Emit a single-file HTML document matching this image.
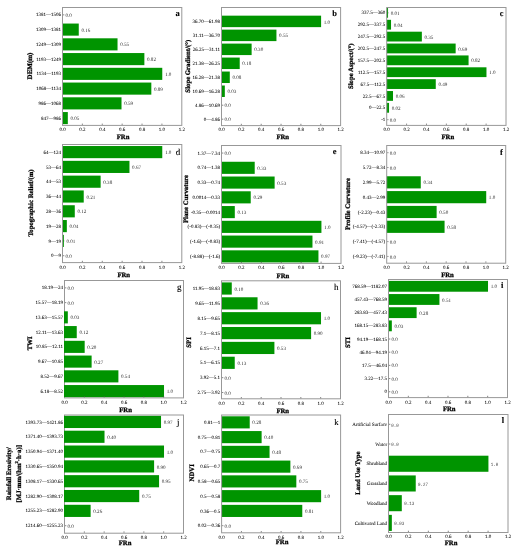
<!DOCTYPE html>
<html><head><meta charset="utf-8"><title>FRn charts</title>
<style>
html,body{margin:0;padding:0;background:#fff;}
svg{display:block;font-family:"Liberation Serif",serif;text-rendering:geometricPrecision;}
.t{font-size:5.0px;fill:#000;stroke:#000;stroke-width:0.04;}
.v{font-size:5.1px;fill:#2e2e2e;}
.vm{font-family:"Liberation Mono",monospace;font-size:5px;fill:#444;}
.yl{font-size:6.75px;font-weight:bold;fill:#000;stroke:#000;stroke-width:0.28;}
.xl{font-size:6.7px;font-weight:bold;fill:#000;stroke:#000;stroke-width:0.28;}
.fr{fill:none;stroke:#989898;stroke-width:1;}
.tk{stroke:#555;stroke-width:0.7;}
.bar{fill:#009400;}
</style></head>
<body>
<svg width="516" height="550" viewBox="0 0 516 550">
<rect width="516" height="550" fill="#fff"/>

<g id="p-a">
<line class="tk" x1="63" y1="14.85" x2="64.3" y2="14.85"/>
<line class="tk" x1="63" y1="29.6" x2="64.3" y2="29.6"/>
<line class="tk" x1="63" y1="44.35" x2="64.3" y2="44.35"/>
<line class="tk" x1="63" y1="59.1" x2="64.3" y2="59.1"/>
<line class="tk" x1="63" y1="73.85" x2="64.3" y2="73.85"/>
<line class="tk" x1="63" y1="88.6" x2="64.3" y2="88.6"/>
<line class="tk" x1="63" y1="103.35" x2="64.3" y2="103.35"/>
<line class="tk" x1="63" y1="118.1" x2="64.3" y2="118.1"/>
<rect class="bar" x="62.5" y="23.55" width="16.26" height="12.1"/>
<rect class="bar" x="62.5" y="38.3" width="55.03" height="12.1"/>
<rect class="bar" x="62.5" y="53.05" width="81.87" height="12.1"/>
<rect class="bar" x="62.5" y="67.8" width="99.77" height="12.1"/>
<rect class="bar" x="62.5" y="82.55" width="88.83" height="12.1"/>
<rect class="bar" x="62.5" y="97.3" width="59.01" height="12.1"/>
<rect class="bar" x="62.5" y="112.05" width="5.32" height="12.1"/>
<rect class="fr" x="62.5" y="7.5" width="119.3" height="117.9"/>
<text class="t" x="61.1" y="16.45" text-anchor="end">1381—1506</text>
<text class="v" x="65.5" y="16.95">0.0</text>
<text class="t" x="61.1" y="31.2" text-anchor="end">1309—1381</text>
<text class="v" x="81.41" y="31.7">0.16</text>
<text class="t" x="61.1" y="45.95" text-anchor="end">1249—1309</text>
<text class="v" x="120.18" y="46.45">0.55</text>
<text class="t" x="61.1" y="60.7" text-anchor="end">1193—1249</text>
<text class="v" x="147.02" y="61.2">0.82</text>
<text class="t" x="61.1" y="75.45" text-anchor="end">1134—1193</text>
<text class="v" x="164.92" y="75.95">1.0</text>
<text class="t" x="61.1" y="90.2" text-anchor="end">1068—1134</text>
<text class="v" x="153.98" y="90.7">0.89</text>
<text class="t" x="61.1" y="104.95" text-anchor="end">986—1068</text>
<text class="v" x="124.16" y="105.45">0.59</text>
<text class="t" x="61.1" y="119.7" text-anchor="end">847—986</text>
<text class="v" x="70.47" y="120.2">0.05</text>
<text class="t" x="62.5" y="131.25" text-anchor="middle">0.0</text>
<line class="tk" x1="82.38" y1="124.9" x2="82.38" y2="123.6"/>
<text class="t" x="82.38" y="131.25" text-anchor="middle">0.2</text>
<line class="tk" x1="102.27" y1="124.9" x2="102.27" y2="123.6"/>
<text class="t" x="102.27" y="131.25" text-anchor="middle">0.4</text>
<line class="tk" x1="122.15" y1="124.9" x2="122.15" y2="123.6"/>
<text class="t" x="122.15" y="131.25" text-anchor="middle">0.6</text>
<line class="tk" x1="142.03" y1="124.9" x2="142.03" y2="123.6"/>
<text class="t" x="142.03" y="131.25" text-anchor="middle">0.8</text>
<line class="tk" x1="161.92" y1="124.9" x2="161.92" y2="123.6"/>
<text class="t" x="161.92" y="131.25" text-anchor="middle">1.0</text>
<text class="t" x="181.8" y="131.25" text-anchor="middle">1.2</text>
<text class="xl" x="123.1" y="138.5" text-anchor="middle">FRn</text>
<text class="yl" transform="translate(32.4 66) rotate(-90)" text-anchor="middle" style="font-size:7.0px">DEM(m)</text>
<text x="177.7" y="16.1" text-anchor="middle" font-size="8.6" font-weight="bold" fill="#000" stroke="#000" stroke-width="0.12">a</text>
</g>
<g id="p-b">
<line class="tk" x1="222" y1="21.4" x2="223.3" y2="21.4"/>
<line class="tk" x1="222" y1="35.37" x2="223.3" y2="35.37"/>
<line class="tk" x1="222" y1="49.34" x2="223.3" y2="49.34"/>
<line class="tk" x1="222" y1="63.31" x2="223.3" y2="63.31"/>
<line class="tk" x1="222" y1="77.28" x2="223.3" y2="77.28"/>
<line class="tk" x1="222" y1="91.25" x2="223.3" y2="91.25"/>
<line class="tk" x1="222" y1="105.22" x2="223.3" y2="105.22"/>
<line class="tk" x1="222" y1="119.19" x2="223.3" y2="119.19"/>
<rect class="bar" x="221.5" y="15.66" width="99.6" height="11.48"/>
<rect class="bar" x="221.5" y="29.63" width="54.94" height="11.48"/>
<rect class="bar" x="221.5" y="43.6" width="30.12" height="11.48"/>
<rect class="bar" x="221.5" y="57.57" width="18.22" height="11.48"/>
<rect class="bar" x="221.5" y="71.54" width="8.29" height="11.48"/>
<rect class="bar" x="221.5" y="85.51" width="3.33" height="11.48"/>
<rect class="fr" x="221.5" y="7.5" width="119.1" height="118.1"/>
<text class="t" x="220.1" y="23" text-anchor="end">36.70—61.98</text>
<text class="v" x="323.75" y="23.5">1.0</text>
<text class="t" x="220.1" y="36.97" text-anchor="end">31.11—36.70</text>
<text class="v" x="279.09" y="37.47">0.55</text>
<text class="t" x="220.1" y="50.94" text-anchor="end">26.25—31.11</text>
<text class="v" x="254.28" y="51.44">0.30</text>
<text class="t" x="220.1" y="64.91" text-anchor="end">21.38—26.25</text>
<text class="v" x="242.37" y="65.41">0.18</text>
<text class="t" x="220.1" y="78.88" text-anchor="end">16.28—21.38</text>
<text class="v" x="232.44" y="79.38">0.08</text>
<text class="t" x="220.1" y="92.85" text-anchor="end">10.69—16.28</text>
<text class="v" x="227.48" y="93.35">0.03</text>
<text class="t" x="220.1" y="106.82" text-anchor="end">4.86—10.69</text>
<text class="v" x="224.5" y="107.32">0.0</text>
<text class="t" x="220.1" y="120.79" text-anchor="end">0—4.86</text>
<text class="v" x="224.5" y="121.29">0.0</text>
<text class="t" x="221.5" y="131.3" text-anchor="middle">0.0</text>
<line class="tk" x1="241.35" y1="125.1" x2="241.35" y2="123.8"/>
<text class="t" x="241.35" y="131.3" text-anchor="middle">0.2</text>
<line class="tk" x1="261.2" y1="125.1" x2="261.2" y2="123.8"/>
<text class="t" x="261.2" y="131.3" text-anchor="middle">0.4</text>
<line class="tk" x1="281.05" y1="125.1" x2="281.05" y2="123.8"/>
<text class="t" x="281.05" y="131.3" text-anchor="middle">0.6</text>
<line class="tk" x1="300.9" y1="125.1" x2="300.9" y2="123.8"/>
<text class="t" x="300.9" y="131.3" text-anchor="middle">0.8</text>
<line class="tk" x1="320.75" y1="125.1" x2="320.75" y2="123.8"/>
<text class="t" x="320.75" y="131.3" text-anchor="middle">1.0</text>
<text class="t" x="340.6" y="131.3" text-anchor="middle">1.2</text>
<text class="xl" x="282.7" y="138.8" text-anchor="middle">FRn</text>
<text class="yl" transform="translate(190.15 66.25) rotate(-90)" text-anchor="middle">Slope Gradient/(°)</text>
<text x="334.7" y="16.1" text-anchor="middle" font-size="8.4" font-weight="bold" fill="#000" stroke="#000" stroke-width="0.12">b</text>
</g>
<g id="p-c">
<line class="tk" x1="387.2" y1="12.85" x2="388.5" y2="12.85"/>
<line class="tk" x1="387.2" y1="24.72" x2="388.5" y2="24.72"/>
<line class="tk" x1="387.2" y1="36.59" x2="388.5" y2="36.59"/>
<line class="tk" x1="387.2" y1="48.46" x2="388.5" y2="48.46"/>
<line class="tk" x1="387.2" y1="60.33" x2="388.5" y2="60.33"/>
<line class="tk" x1="387.2" y1="72.2" x2="388.5" y2="72.2"/>
<line class="tk" x1="387.2" y1="84.07" x2="388.5" y2="84.07"/>
<line class="tk" x1="387.2" y1="95.94" x2="388.5" y2="95.94"/>
<line class="tk" x1="387.2" y1="107.81" x2="388.5" y2="107.81"/>
<line class="tk" x1="387.2" y1="119.68" x2="388.5" y2="119.68"/>
<rect class="bar" x="386.7" y="7.95" width="1.34" height="9.8"/>
<rect class="bar" x="386.7" y="19.82" width="4.33" height="9.8"/>
<rect class="bar" x="386.7" y="31.69" width="35.15" height="9.8"/>
<rect class="bar" x="386.7" y="43.56" width="68.95" height="9.8"/>
<rect class="bar" x="386.7" y="55.43" width="81.87" height="9.8"/>
<rect class="bar" x="386.7" y="67.3" width="99.77" height="9.8"/>
<rect class="bar" x="386.7" y="79.17" width="49.06" height="9.8"/>
<rect class="bar" x="386.7" y="91.04" width="6.31" height="9.8"/>
<rect class="bar" x="386.7" y="102.91" width="2.34" height="9.8"/>
<rect class="fr" x="386.7" y="7.5" width="119.3" height="117.9"/>
<text class="t" x="385.3" y="14.45" text-anchor="end">337.5—360</text>
<text class="v" x="390.69" y="14.95">0.01</text>
<text class="t" x="385.3" y="26.32" text-anchor="end">292.5—337.5</text>
<text class="v" x="393.68" y="26.82">0.04</text>
<text class="t" x="385.3" y="38.19" text-anchor="end">247.5—292.5</text>
<text class="v" x="424.5" y="38.69">0.35</text>
<text class="t" x="385.3" y="50.06" text-anchor="end">202.5—247.5</text>
<text class="v" x="458.3" y="50.56">0.69</text>
<text class="t" x="385.3" y="61.93" text-anchor="end">157.5—202.5</text>
<text class="v" x="471.22" y="62.43">0.82</text>
<text class="t" x="385.3" y="73.8" text-anchor="end">112.5—157.5</text>
<text class="v" x="489.12" y="74.3">1.0</text>
<text class="t" x="385.3" y="85.67" text-anchor="end">67.5—112.5</text>
<text class="v" x="438.41" y="86.17">0.49</text>
<text class="t" x="385.3" y="97.54" text-anchor="end">22.5—67.5</text>
<text class="v" x="395.66" y="98.04">0.06</text>
<text class="t" x="385.3" y="109.41" text-anchor="end">0—22.5</text>
<text class="v" x="391.69" y="109.91">0.02</text>
<text class="t" x="385.3" y="121.28" text-anchor="end">-1</text>
<text class="v" x="389.7" y="121.78">0.0</text>
<text class="t" x="386.7" y="131.1" text-anchor="middle">0.0</text>
<line class="tk" x1="406.58" y1="124.9" x2="406.58" y2="123.6"/>
<text class="t" x="406.58" y="131.1" text-anchor="middle">0.2</text>
<line class="tk" x1="426.47" y1="124.9" x2="426.47" y2="123.6"/>
<text class="t" x="426.47" y="131.1" text-anchor="middle">0.4</text>
<line class="tk" x1="446.35" y1="124.9" x2="446.35" y2="123.6"/>
<text class="t" x="446.35" y="131.1" text-anchor="middle">0.6</text>
<line class="tk" x1="466.23" y1="124.9" x2="466.23" y2="123.6"/>
<text class="t" x="466.23" y="131.1" text-anchor="middle">0.8</text>
<line class="tk" x1="486.12" y1="124.9" x2="486.12" y2="123.6"/>
<text class="t" x="486.12" y="131.1" text-anchor="middle">1.0</text>
<text class="t" x="506" y="131.1" text-anchor="middle">1.2</text>
<text class="xl" x="447.8" y="138.6" text-anchor="middle">FRn</text>
<text class="yl" transform="translate(352.65 66.25) rotate(-90)" text-anchor="middle">Slope Aspect/(°)</text>
<text x="501.5" y="16.1" text-anchor="middle" font-size="8.4" font-weight="bold" fill="#000" stroke="#000" stroke-width="0.12">c</text>
</g>
<g id="p-d">
<line class="tk" x1="63" y1="152.1" x2="64.3" y2="152.1"/>
<line class="tk" x1="63" y1="166.9" x2="64.3" y2="166.9"/>
<line class="tk" x1="63" y1="181.7" x2="64.3" y2="181.7"/>
<line class="tk" x1="63" y1="196.5" x2="64.3" y2="196.5"/>
<line class="tk" x1="63" y1="211.3" x2="64.3" y2="211.3"/>
<line class="tk" x1="63" y1="226.1" x2="64.3" y2="226.1"/>
<line class="tk" x1="63" y1="240.9" x2="64.3" y2="240.9"/>
<line class="tk" x1="63" y1="255.7" x2="64.3" y2="255.7"/>
<rect class="bar" x="62.5" y="146.03" width="99.77" height="12.14"/>
<rect class="bar" x="62.5" y="160.83" width="66.96" height="12.14"/>
<rect class="bar" x="62.5" y="175.63" width="38.13" height="12.14"/>
<rect class="bar" x="62.5" y="190.43" width="21.23" height="12.14"/>
<rect class="bar" x="62.5" y="205.23" width="12.28" height="12.14"/>
<rect class="bar" x="62.5" y="220.03" width="4.33" height="12.14"/>
<rect class="bar" x="62.5" y="234.83" width="1.34" height="12.14"/>
<rect class="fr" x="62.5" y="144.5" width="119.3" height="118.1"/>
<text class="t" x="61.1" y="153.7" text-anchor="end">64—124</text>
<text class="v" x="164.92" y="154.2">1.0</text>
<text class="t" x="61.1" y="168.5" text-anchor="end">53—64</text>
<text class="v" x="132.11" y="169">0.67</text>
<text class="t" x="61.1" y="183.3" text-anchor="end">44—53</text>
<text class="v" x="103.28" y="183.8">0.38</text>
<text class="t" x="61.1" y="198.1" text-anchor="end">36—44</text>
<text class="v" x="86.38" y="198.6">0.21</text>
<text class="t" x="61.1" y="212.9" text-anchor="end">28—36</text>
<text class="v" x="77.43" y="213.4">0.12</text>
<text class="t" x="61.1" y="227.7" text-anchor="end">19—28</text>
<text class="v" x="69.48" y="228.2">0.04</text>
<text class="t" x="61.1" y="242.5" text-anchor="end">9—19</text>
<text class="v" x="66.49" y="243">0.01</text>
<text class="t" x="61.1" y="257.3" text-anchor="end">0—9</text>
<text class="v" x="65.5" y="257.8">0.0</text>
<text class="t" x="62.5" y="268.7" text-anchor="middle">0.0</text>
<line class="tk" x1="82.38" y1="262.1" x2="82.38" y2="260.8"/>
<text class="t" x="82.38" y="268.7" text-anchor="middle">0.2</text>
<line class="tk" x1="102.27" y1="262.1" x2="102.27" y2="260.8"/>
<text class="t" x="102.27" y="268.7" text-anchor="middle">0.4</text>
<line class="tk" x1="122.15" y1="262.1" x2="122.15" y2="260.8"/>
<text class="t" x="122.15" y="268.7" text-anchor="middle">0.6</text>
<line class="tk" x1="142.03" y1="262.1" x2="142.03" y2="260.8"/>
<text class="t" x="142.03" y="268.7" text-anchor="middle">0.8</text>
<line class="tk" x1="161.92" y1="262.1" x2="161.92" y2="260.8"/>
<text class="t" x="161.92" y="268.7" text-anchor="middle">1.0</text>
<text class="t" x="181.8" y="268.7" text-anchor="middle">1.2</text>
<text class="xl" x="123.75" y="277.1" text-anchor="middle">FRn</text>
<text class="yl" transform="translate(32.5 203) rotate(-90)" text-anchor="middle">Topographic Relief/(m)</text>
<text x="178.1" y="154.7" text-anchor="middle" font-size="9" font-weight="normal" fill="#000" stroke="#000" stroke-width="0.12">d</text>
</g>
<g id="p-e">
<line class="tk" x1="222" y1="153.05" x2="223.3" y2="153.05"/>
<line class="tk" x1="222" y1="167.81" x2="223.3" y2="167.81"/>
<line class="tk" x1="222" y1="182.57" x2="223.3" y2="182.57"/>
<line class="tk" x1="222" y1="197.33" x2="223.3" y2="197.33"/>
<line class="tk" x1="222" y1="212.09" x2="223.3" y2="212.09"/>
<line class="tk" x1="222" y1="226.85" x2="223.3" y2="226.85"/>
<line class="tk" x1="222" y1="241.61" x2="223.3" y2="241.61"/>
<line class="tk" x1="222" y1="256.37" x2="223.3" y2="256.37"/>
<rect class="bar" x="221.5" y="161.76" width="33.21" height="12.11"/>
<rect class="bar" x="221.5" y="176.52" width="53.13" height="12.11"/>
<rect class="bar" x="221.5" y="191.28" width="29.23" height="12.11"/>
<rect class="bar" x="221.5" y="206.04" width="13.3" height="12.11"/>
<rect class="bar" x="221.5" y="220.8" width="99.93" height="12.11"/>
<rect class="bar" x="221.5" y="235.56" width="90.97" height="12.11"/>
<rect class="bar" x="221.5" y="250.32" width="96.95" height="12.11"/>
<rect class="fr" x="221.5" y="145.5" width="119.5" height="117.9"/>
<text class="t" x="220.1" y="154.65" text-anchor="end">1.37—7.34</text>
<text class="v" x="224.5" y="155.15">0.0</text>
<text class="t" x="220.1" y="169.41" text-anchor="end">0.74—1.38</text>
<text class="v" x="257.36" y="169.91">0.33</text>
<text class="t" x="220.1" y="184.17" text-anchor="end">0.33—0.74</text>
<text class="v" x="277.28" y="184.67">0.53</text>
<text class="t" x="220.1" y="198.93" text-anchor="end">0.0014—0.33</text>
<text class="v" x="253.38" y="199.43">0.29</text>
<text class="t" x="220.1" y="213.69" text-anchor="end">-0.35—0.0014</text>
<text class="v" x="237.45" y="214.19">0.13</text>
<text class="t" x="220.1" y="228.45" text-anchor="end">(-0.83)—(-0.35)</text>
<text class="v" x="324.08" y="228.95">1.0</text>
<text class="t" x="220.1" y="243.21" text-anchor="end">(-1.6)—(-0.83)</text>
<text class="v" x="315.12" y="243.71">0.91</text>
<text class="t" x="220.1" y="257.97" text-anchor="end">(-8.88)—(-1.6)</text>
<text class="v" x="321.1" y="258.47">0.97</text>
<text class="t" x="221.5" y="269.4" text-anchor="middle">0.0</text>
<line class="tk" x1="241.42" y1="262.9" x2="241.42" y2="261.6"/>
<text class="t" x="241.42" y="269.4" text-anchor="middle">0.2</text>
<line class="tk" x1="261.33" y1="262.9" x2="261.33" y2="261.6"/>
<text class="t" x="261.33" y="269.4" text-anchor="middle">0.4</text>
<line class="tk" x1="281.25" y1="262.9" x2="281.25" y2="261.6"/>
<text class="t" x="281.25" y="269.4" text-anchor="middle">0.6</text>
<line class="tk" x1="301.17" y1="262.9" x2="301.17" y2="261.6"/>
<text class="t" x="301.17" y="269.4" text-anchor="middle">0.8</text>
<line class="tk" x1="321.08" y1="262.9" x2="321.08" y2="261.6"/>
<text class="t" x="321.08" y="269.4" text-anchor="middle">1.0</text>
<text class="t" x="341" y="269.4" text-anchor="middle">1.2</text>
<text class="xl" x="282.9" y="278" text-anchor="middle">FRn</text>
<text class="yl" transform="translate(188.45 199) rotate(-90)" text-anchor="middle">Plane Curvature</text>
<text x="334.7" y="154.4" text-anchor="middle" font-size="8.5" font-weight="bold" fill="#000" stroke="#000" stroke-width="0.12">e</text>
</g>
<g id="p-f">
<line class="tk" x1="387.2" y1="152.7" x2="388.5" y2="152.7"/>
<line class="tk" x1="387.2" y1="167.52" x2="388.5" y2="167.52"/>
<line class="tk" x1="387.2" y1="182.34" x2="388.5" y2="182.34"/>
<line class="tk" x1="387.2" y1="197.16" x2="388.5" y2="197.16"/>
<line class="tk" x1="387.2" y1="211.98" x2="388.5" y2="211.98"/>
<line class="tk" x1="387.2" y1="226.8" x2="388.5" y2="226.8"/>
<line class="tk" x1="387.2" y1="241.62" x2="388.5" y2="241.62"/>
<line class="tk" x1="387.2" y1="256.44" x2="388.5" y2="256.44"/>
<rect class="bar" x="386.7" y="176.26" width="34.07" height="12.16"/>
<rect class="bar" x="386.7" y="191.08" width="99.52" height="12.16"/>
<rect class="bar" x="386.7" y="205.9" width="49.93" height="12.16"/>
<rect class="bar" x="386.7" y="220.72" width="57.87" height="12.16"/>
<rect class="fr" x="386.7" y="145.5" width="119" height="117.7"/>
<text class="t" x="385.3" y="154.3" text-anchor="end">8.34—10.97</text>
<text class="v" x="389.7" y="154.8">0.0</text>
<text class="t" x="385.3" y="169.12" text-anchor="end">5.72—8.34</text>
<text class="v" x="389.7" y="169.62">0.0</text>
<text class="t" x="385.3" y="183.94" text-anchor="end">2.99—5.72</text>
<text class="v" x="423.42" y="184.44">0.34</text>
<text class="t" x="385.3" y="198.76" text-anchor="end">0.43—2.99</text>
<text class="v" x="488.87" y="199.26">1.0</text>
<text class="t" x="385.3" y="213.58" text-anchor="end">(-2.23)—0.43</text>
<text class="v" x="439.28" y="214.08">0.50</text>
<text class="t" x="385.3" y="228.4" text-anchor="end">(-4.57)—(-2.33)</text>
<text class="v" x="447.22" y="228.9">0.58</text>
<text class="t" x="385.3" y="243.22" text-anchor="end">(-7.41)—(-4.57)</text>
<text class="v" x="389.7" y="243.72">0.0</text>
<text class="t" x="385.3" y="258.04" text-anchor="end">(-9.23)—(-7.41)</text>
<text class="v" x="389.7" y="258.54">0.0</text>
<text class="t" x="386.7" y="269.4" text-anchor="middle">0.0</text>
<line class="tk" x1="406.53" y1="262.7" x2="406.53" y2="261.4"/>
<text class="t" x="406.53" y="269.4" text-anchor="middle">0.2</text>
<line class="tk" x1="426.37" y1="262.7" x2="426.37" y2="261.4"/>
<text class="t" x="426.37" y="269.4" text-anchor="middle">0.4</text>
<line class="tk" x1="446.2" y1="262.7" x2="446.2" y2="261.4"/>
<text class="t" x="446.2" y="269.4" text-anchor="middle">0.6</text>
<line class="tk" x1="466.03" y1="262.7" x2="466.03" y2="261.4"/>
<text class="t" x="466.03" y="269.4" text-anchor="middle">0.8</text>
<line class="tk" x1="485.87" y1="262.7" x2="485.87" y2="261.4"/>
<text class="t" x="485.87" y="269.4" text-anchor="middle">1.0</text>
<text class="t" x="505.7" y="269.4" text-anchor="middle">1.2</text>
<text class="xl" x="447.45" y="277.1" text-anchor="middle">FRn</text>
<text class="yl" transform="translate(350.1 204) rotate(-90)" text-anchor="middle" style="font-size:6.85px">Profile Curvature</text>
<text x="501.4" y="154.7" text-anchor="middle" font-size="8.5" font-weight="bold" fill="#000" stroke="#000" stroke-width="0.12">f</text>
</g>
<g id="p-g">
<line class="tk" x1="65" y1="287.85" x2="66.3" y2="287.85"/>
<line class="tk" x1="65" y1="302.6" x2="66.3" y2="302.6"/>
<line class="tk" x1="65" y1="317.35" x2="66.3" y2="317.35"/>
<line class="tk" x1="65" y1="332.1" x2="66.3" y2="332.1"/>
<line class="tk" x1="65" y1="346.85" x2="66.3" y2="346.85"/>
<line class="tk" x1="65" y1="361.6" x2="66.3" y2="361.6"/>
<line class="tk" x1="65" y1="376.35" x2="66.3" y2="376.35"/>
<line class="tk" x1="65" y1="391.1" x2="66.3" y2="391.1"/>
<rect class="fr" x="64.5" y="280.5" width="119" height="117.4"/>
<rect class="bar" x="64" y="311.3" width="3.82" height="12.1"/>
<rect class="bar" x="64" y="326.05" width="12.75" height="12.1"/>
<rect class="bar" x="64" y="340.8" width="20.68" height="12.1"/>
<rect class="bar" x="64" y="355.55" width="27.62" height="12.1"/>
<rect class="bar" x="64" y="370.3" width="54.4" height="12.1"/>
<rect class="bar" x="64" y="385.05" width="100.02" height="12.1"/>
<text class="t" x="63.1" y="289.45" text-anchor="end">18.19—24</text>
<text class="v" x="67.5" y="289.95">0.0</text>
<text class="t" x="63.1" y="304.2" text-anchor="end">15.57—18.19</text>
<text class="v" x="67.5" y="304.7">0.0</text>
<text class="t" x="63.1" y="318.95" text-anchor="end">13.63—15.57</text>
<text class="v" x="70.47" y="319.45">0.03</text>
<text class="t" x="63.1" y="333.7" text-anchor="end">12.11—13.63</text>
<text class="v" x="79.4" y="334.2">0.12</text>
<text class="t" x="63.1" y="348.45" text-anchor="end">10.85—12.11</text>
<text class="v" x="87.33" y="348.95">0.20</text>
<text class="t" x="63.1" y="363.2" text-anchor="end">9.67—10.85</text>
<text class="v" x="94.28" y="363.7">0.27</text>
<text class="t" x="63.1" y="377.95" text-anchor="end">8.52—9.67</text>
<text class="v" x="121.05" y="378.45">0.54</text>
<text class="t" x="63.1" y="392.7" text-anchor="end">6.18—8.52</text>
<text class="v" x="166.67" y="393.2">1.0</text>
<text class="t" x="64.5" y="403.7" text-anchor="middle">0.0</text>
<line class="tk" x1="84.33" y1="397.4" x2="84.33" y2="396.1"/>
<text class="t" x="84.33" y="403.7" text-anchor="middle">0.2</text>
<line class="tk" x1="104.17" y1="397.4" x2="104.17" y2="396.1"/>
<text class="t" x="104.17" y="403.7" text-anchor="middle">0.4</text>
<line class="tk" x1="124" y1="397.4" x2="124" y2="396.1"/>
<text class="t" x="124" y="403.7" text-anchor="middle">0.6</text>
<line class="tk" x1="143.83" y1="397.4" x2="143.83" y2="396.1"/>
<text class="t" x="143.83" y="403.7" text-anchor="middle">0.8</text>
<line class="tk" x1="163.67" y1="397.4" x2="163.67" y2="396.1"/>
<text class="t" x="163.67" y="403.7" text-anchor="middle">1.0</text>
<text class="t" x="183.5" y="403.7" text-anchor="middle">1.2</text>
<text class="xl" x="125.55" y="412.1" text-anchor="middle">FRn</text>
<text class="yl" transform="translate(32.4 343.4) rotate(-90)" text-anchor="middle">TWI</text>
<text x="179.3" y="289.7" text-anchor="middle" font-size="9" font-weight="normal" fill="#000" stroke="#000" stroke-width="0.12">g</text>
</g>
<g id="p-h">
<line class="tk" x1="222" y1="288.5" x2="223.3" y2="288.5"/>
<line class="tk" x1="222" y1="303.36" x2="223.3" y2="303.36"/>
<line class="tk" x1="222" y1="318.22" x2="223.3" y2="318.22"/>
<line class="tk" x1="222" y1="333.08" x2="223.3" y2="333.08"/>
<line class="tk" x1="222" y1="347.94" x2="223.3" y2="347.94"/>
<line class="tk" x1="222" y1="362.8" x2="223.3" y2="362.8"/>
<line class="tk" x1="222" y1="377.66" x2="223.3" y2="377.66"/>
<line class="tk" x1="222" y1="392.52" x2="223.3" y2="392.52"/>
<rect class="bar" x="221.5" y="282.41" width="10.27" height="12.19"/>
<rect class="bar" x="221.5" y="297.27" width="36.05" height="12.19"/>
<rect class="bar" x="221.5" y="312.13" width="99.52" height="12.19"/>
<rect class="bar" x="221.5" y="326.99" width="89.6" height="12.19"/>
<rect class="bar" x="221.5" y="341.85" width="52.91" height="12.19"/>
<rect class="bar" x="221.5" y="356.71" width="13.24" height="12.19"/>
<rect class="fr" x="221.5" y="280.8" width="119" height="118"/>
<text class="t" x="220.1" y="290.1" text-anchor="end">11.95—18.83</text>
<text class="v" x="234.42" y="290.6">0.10</text>
<text class="t" x="220.1" y="304.96" text-anchor="end">9.65—11.95</text>
<text class="v" x="260.2" y="305.46">0.36</text>
<text class="t" x="220.1" y="319.82" text-anchor="end">8.15—9.65</text>
<text class="v" x="323.67" y="320.32">1.0</text>
<text class="t" x="220.1" y="334.68" text-anchor="end">7.1—8.15</text>
<text class="v" x="313.75" y="335.18">0.90</text>
<text class="t" x="220.1" y="349.54" text-anchor="end">6.15—7.1</text>
<text class="v" x="277.06" y="350.04">0.53</text>
<text class="t" x="220.1" y="364.4" text-anchor="end">5.1—6.15</text>
<text class="v" x="237.39" y="364.9">0.13</text>
<text class="t" x="220.1" y="379.26" text-anchor="end">3.92—5.1</text>
<text class="v" x="224.5" y="379.76">0.0</text>
<text class="t" x="220.1" y="394.12" text-anchor="end">2.75—3.92</text>
<text class="v" x="224.5" y="394.62">0.0</text>
<text class="t" x="221.5" y="405.1" text-anchor="middle">0.0</text>
<line class="tk" x1="241.33" y1="398.3" x2="241.33" y2="397"/>
<text class="t" x="241.33" y="405.1" text-anchor="middle">0.2</text>
<line class="tk" x1="261.17" y1="398.3" x2="261.17" y2="397"/>
<text class="t" x="261.17" y="405.1" text-anchor="middle">0.4</text>
<line class="tk" x1="281" y1="398.3" x2="281" y2="397"/>
<text class="t" x="281" y="405.1" text-anchor="middle">0.6</text>
<line class="tk" x1="300.83" y1="398.3" x2="300.83" y2="397"/>
<text class="t" x="300.83" y="405.1" text-anchor="middle">0.8</text>
<line class="tk" x1="320.67" y1="398.3" x2="320.67" y2="397"/>
<text class="t" x="320.67" y="405.1" text-anchor="middle">1.0</text>
<text class="t" x="340.5" y="405.1" text-anchor="middle">1.2</text>
<text class="xl" x="282.7" y="412.5" text-anchor="middle">FRn</text>
<text class="yl" transform="translate(190.65 342.5) rotate(-90)" text-anchor="middle">SPI</text>
<text x="336.2" y="289.9" text-anchor="middle" font-size="9" font-weight="normal" fill="#000" stroke="#000" stroke-width="0.12">h</text>
</g>
<g id="p-i">
<line class="tk" x1="389" y1="286.3" x2="390.3" y2="286.3"/>
<line class="tk" x1="389" y1="299.48" x2="390.3" y2="299.48"/>
<line class="tk" x1="389" y1="312.66" x2="390.3" y2="312.66"/>
<line class="tk" x1="389" y1="325.84" x2="390.3" y2="325.84"/>
<line class="tk" x1="389" y1="339.02" x2="390.3" y2="339.02"/>
<line class="tk" x1="389" y1="352.2" x2="390.3" y2="352.2"/>
<line class="tk" x1="389" y1="365.38" x2="390.3" y2="365.38"/>
<line class="tk" x1="389" y1="378.56" x2="390.3" y2="378.56"/>
<line class="tk" x1="389" y1="391.74" x2="390.3" y2="391.74"/>
<rect class="bar" x="388.5" y="280.88" width="99.52" height="10.84"/>
<rect class="bar" x="388.5" y="294.06" width="50.93" height="10.84"/>
<rect class="bar" x="388.5" y="307.24" width="28.12" height="10.84"/>
<rect class="bar" x="388.5" y="320.42" width="3.33" height="10.84"/>
<rect class="fr" x="388.5" y="279.5" width="119" height="118.1"/>
<text class="t" x="387.1" y="287.9" text-anchor="end">768.59—1182.07</text>
<text class="v" x="490.67" y="288.4">1.0</text>
<text class="t" x="387.1" y="301.08" text-anchor="end">457.43—768.59</text>
<text class="v" x="442.07" y="301.58">0.51</text>
<text class="t" x="387.1" y="314.26" text-anchor="end">283.83—457.43</text>
<text class="v" x="419.27" y="314.76">0.28</text>
<text class="t" x="387.1" y="327.44" text-anchor="end">168.15—283.83</text>
<text class="v" x="394.48" y="327.94">0.03</text>
<text class="t" x="387.1" y="340.62" text-anchor="end">94.19—168.15</text>
<text class="v" x="391.5" y="341.12">0.0</text>
<text class="t" x="387.1" y="353.8" text-anchor="end">46.04—94.19</text>
<text class="v" x="391.5" y="354.3">0.0</text>
<text class="t" x="387.1" y="366.98" text-anchor="end">17.5—46.04</text>
<text class="v" x="391.5" y="367.48">0.0</text>
<text class="t" x="387.1" y="380.16" text-anchor="end">3.22—17.5</text>
<text class="v" x="391.5" y="380.66">0.0</text>
<text class="t" x="387.1" y="393.34" text-anchor="end">0</text>
<text class="v" x="391.5" y="393.84">0.0</text>
<text class="t" x="388.5" y="403.5" text-anchor="middle">0.0</text>
<line class="tk" x1="408.33" y1="397.1" x2="408.33" y2="395.8"/>
<text class="t" x="408.33" y="403.5" text-anchor="middle">0.2</text>
<line class="tk" x1="428.17" y1="397.1" x2="428.17" y2="395.8"/>
<text class="t" x="428.17" y="403.5" text-anchor="middle">0.4</text>
<line class="tk" x1="448" y1="397.1" x2="448" y2="395.8"/>
<text class="t" x="448" y="403.5" text-anchor="middle">0.6</text>
<line class="tk" x1="467.83" y1="397.1" x2="467.83" y2="395.8"/>
<text class="t" x="467.83" y="403.5" text-anchor="middle">0.8</text>
<line class="tk" x1="487.67" y1="397.1" x2="487.67" y2="395.8"/>
<text class="t" x="487.67" y="403.5" text-anchor="middle">1.0</text>
<text class="t" x="507.5" y="403.5" text-anchor="middle">1.2</text>
<text class="xl" x="449.25" y="410.9" text-anchor="middle">FRn</text>
<text class="yl" transform="translate(350.3 342.5) rotate(-90)" text-anchor="middle">STI</text>
<text x="502.2" y="288.4" text-anchor="middle" font-size="8.5" font-weight="bold" fill="#000" stroke="#000" stroke-width="0.12">i</text>
</g>
<g id="p-j">
<line class="tk" x1="65" y1="421.95" x2="66.3" y2="421.95"/>
<line class="tk" x1="65" y1="436.77" x2="66.3" y2="436.77"/>
<line class="tk" x1="65" y1="451.59" x2="66.3" y2="451.59"/>
<line class="tk" x1="65" y1="466.41" x2="66.3" y2="466.41"/>
<line class="tk" x1="65" y1="481.23" x2="66.3" y2="481.23"/>
<line class="tk" x1="65" y1="496.05" x2="66.3" y2="496.05"/>
<line class="tk" x1="65" y1="510.87" x2="66.3" y2="510.87"/>
<line class="tk" x1="65" y1="525.69" x2="66.3" y2="525.69"/>
<rect class="fr" x="64.5" y="415" width="119" height="118.2"/>
<rect class="bar" x="64" y="415.87" width="97.04" height="12.16"/>
<rect class="bar" x="64" y="430.69" width="40.52" height="12.16"/>
<rect class="bar" x="64" y="445.51" width="100.02" height="12.16"/>
<rect class="bar" x="64" y="460.33" width="90.1" height="12.16"/>
<rect class="bar" x="64" y="475.15" width="95.06" height="12.16"/>
<rect class="bar" x="64" y="489.97" width="75.22" height="12.16"/>
<rect class="bar" x="64" y="504.79" width="26.63" height="12.16"/>
<text class="t" x="63.1" y="423.55" text-anchor="end">1393.73—1421.86</text>
<text class="v" x="163.69" y="424.05">0.97</text>
<text class="t" x="63.1" y="438.37" text-anchor="end">1371.40—1393.73</text>
<text class="v" x="107.17" y="438.87">0.40</text>
<text class="t" x="63.1" y="453.19" text-anchor="end">1350.94—1371.40</text>
<text class="v" x="166.67" y="453.69">1.0</text>
<text class="t" x="63.1" y="468.01" text-anchor="end">1330.65—1350.94</text>
<text class="v" x="156.75" y="468.51">0.90</text>
<text class="t" x="63.1" y="482.83" text-anchor="end">1308.17—1330.65</text>
<text class="v" x="161.71" y="483.33">0.95</text>
<text class="t" x="63.1" y="497.65" text-anchor="end">1282.90—1308.17</text>
<text class="v" x="141.88" y="498.15">0.75</text>
<text class="t" x="63.1" y="512.47" text-anchor="end">1255.23—1282.90</text>
<text class="v" x="93.28" y="512.97">0.26</text>
<text class="t" x="63.1" y="527.29" text-anchor="end">1214.60—1255.23</text>
<text class="v" x="67.5" y="527.79">0.0</text>
<text class="t" x="64.5" y="538.8" text-anchor="middle">0.0</text>
<line class="tk" x1="84.33" y1="532.7" x2="84.33" y2="531.4"/>
<text class="t" x="84.33" y="538.8" text-anchor="middle">0.2</text>
<line class="tk" x1="104.17" y1="532.7" x2="104.17" y2="531.4"/>
<text class="t" x="104.17" y="538.8" text-anchor="middle">0.4</text>
<line class="tk" x1="124" y1="532.7" x2="124" y2="531.4"/>
<text class="t" x="124" y="538.8" text-anchor="middle">0.6</text>
<line class="tk" x1="143.83" y1="532.7" x2="143.83" y2="531.4"/>
<text class="t" x="143.83" y="538.8" text-anchor="middle">0.8</text>
<line class="tk" x1="163.67" y1="532.7" x2="163.67" y2="531.4"/>
<text class="t" x="163.67" y="538.8" text-anchor="middle">1.0</text>
<text class="t" x="183.5" y="538.8" text-anchor="middle">1.2</text>
<text class="xl" x="125.05" y="544.8" text-anchor="middle">FRn</text>
<text class="yl" transform="translate(11.4 473.75) rotate(-90)" text-anchor="middle">Rainfall Erosivity/</text>
<text class="yl" transform="translate(20.65 473.75) rotate(-90)" text-anchor="middle">[MJ·mm/(hm<tspan font-size="4.5" dy="-2.2">2</tspan><tspan dy="2.2">·h·a)]</tspan></text>
<text x="178.3" y="424.6" text-anchor="middle" font-size="9" font-weight="normal" fill="#000" stroke="#000" stroke-width="0.12">j</text>
</g>
<g id="p-k">
<line class="tk" x1="222.1" y1="422.35" x2="223.4" y2="422.35"/>
<line class="tk" x1="222.1" y1="437.11" x2="223.4" y2="437.11"/>
<line class="tk" x1="222.1" y1="451.87" x2="223.4" y2="451.87"/>
<line class="tk" x1="222.1" y1="466.63" x2="223.4" y2="466.63"/>
<line class="tk" x1="222.1" y1="481.39" x2="223.4" y2="481.39"/>
<line class="tk" x1="222.1" y1="496.15" x2="223.4" y2="496.15"/>
<line class="tk" x1="222.1" y1="510.91" x2="223.4" y2="510.91"/>
<line class="tk" x1="222.1" y1="525.67" x2="223.4" y2="525.67"/>
<rect class="bar" x="221.6" y="416.3" width="28.12" height="12.11"/>
<rect class="bar" x="221.6" y="431.06" width="40.02" height="12.11"/>
<rect class="bar" x="221.6" y="445.82" width="47.95" height="12.11"/>
<rect class="bar" x="221.6" y="460.58" width="68.78" height="12.11"/>
<rect class="bar" x="221.6" y="475.34" width="74.73" height="12.11"/>
<rect class="bar" x="221.6" y="490.1" width="99.52" height="12.11"/>
<rect class="bar" x="221.6" y="504.86" width="80.68" height="12.11"/>
<rect class="fr" x="221.6" y="415" width="119" height="117.8"/>
<text class="t" x="220.2" y="423.95" text-anchor="end">0.81—1</text>
<text class="v" x="252.37" y="424.45">0.28</text>
<text class="t" x="220.2" y="438.71" text-anchor="end">0.75—0.81</text>
<text class="v" x="264.27" y="439.21">0.40</text>
<text class="t" x="220.2" y="453.47" text-anchor="end">0.7—0.75</text>
<text class="v" x="272.2" y="453.97">0.48</text>
<text class="t" x="220.2" y="468.23" text-anchor="end">0.65—0.7</text>
<text class="v" x="293.02" y="468.73">0.69</text>
<text class="t" x="220.2" y="482.99" text-anchor="end">0.58—0.65</text>
<text class="v" x="298.98" y="483.49">0.75</text>
<text class="t" x="220.2" y="497.75" text-anchor="end">0.5—0.58</text>
<text class="v" x="323.77" y="498.25">1.0</text>
<text class="t" x="220.2" y="512.51" text-anchor="end">0.36—0.5</text>
<text class="v" x="304.93" y="513.01">0.81</text>
<text class="t" x="220.2" y="527.27" text-anchor="end">0.02—0.36</text>
<text class="v" x="224.6" y="527.77">0.0</text>
<text class="t" x="221.6" y="538.6" text-anchor="middle">0.0</text>
<line class="tk" x1="241.43" y1="532.3" x2="241.43" y2="531"/>
<text class="t" x="241.43" y="538.6" text-anchor="middle">0.2</text>
<line class="tk" x1="261.27" y1="532.3" x2="261.27" y2="531"/>
<text class="t" x="261.27" y="538.6" text-anchor="middle">0.4</text>
<line class="tk" x1="281.1" y1="532.3" x2="281.1" y2="531"/>
<text class="t" x="281.1" y="538.6" text-anchor="middle">0.6</text>
<line class="tk" x1="300.93" y1="532.3" x2="300.93" y2="531"/>
<text class="t" x="300.93" y="538.6" text-anchor="middle">0.8</text>
<line class="tk" x1="320.77" y1="532.3" x2="320.77" y2="531"/>
<text class="t" x="320.77" y="538.6" text-anchor="middle">1.0</text>
<text class="t" x="340.6" y="538.6" text-anchor="middle">1.2</text>
<text class="xl" x="282.1" y="544.4" text-anchor="middle">FRn</text>
<text class="yl" transform="translate(193.9 472.75) rotate(-90)" text-anchor="middle">NDVI</text>
<text x="336.3" y="425" text-anchor="middle" font-size="8.7" font-weight="normal" fill="#000" stroke="#000" stroke-width="0.12">k</text>
</g>
<g id="p-l">
<line class="tk" x1="389" y1="424.3" x2="390.3" y2="424.3"/>
<line class="tk" x1="389" y1="444.02" x2="390.3" y2="444.02"/>
<line class="tk" x1="389" y1="463.74" x2="390.3" y2="463.74"/>
<line class="tk" x1="389" y1="483.46" x2="390.3" y2="483.46"/>
<line class="tk" x1="389" y1="503.18" x2="390.3" y2="503.18"/>
<line class="tk" x1="389" y1="522.9" x2="390.3" y2="522.9"/>
<rect class="bar" x="388.5" y="455.7" width="99.93" height="16.08"/>
<rect class="bar" x="388.5" y="475.42" width="27.24" height="16.08"/>
<rect class="bar" x="388.5" y="495.14" width="13.3" height="16.08"/>
<rect class="bar" x="388.5" y="514.86" width="3.34" height="16.08"/>
<rect class="fr" x="388.5" y="414.5" width="119.5" height="118"/>
<text class="t" x="387.1" y="425.9" text-anchor="end">Artificial Surface</text>
<text class="vm" x="391.2" y="426.6" textLength="7.5" lengthAdjust="spacingAndGlyphs">0.0</text>
<text class="t" x="387.1" y="445.62" text-anchor="end">Water</text>
<text class="vm" x="391.2" y="446.32" textLength="7.5" lengthAdjust="spacingAndGlyphs">0.0</text>
<text class="t" x="387.1" y="465.34" text-anchor="end">Shrubland</text>
<text class="vm" x="490.78" y="466.04" textLength="7.5" lengthAdjust="spacingAndGlyphs">1.0</text>
<text class="t" x="387.1" y="485.06" text-anchor="end">Grassland</text>
<text class="vm" x="418.09" y="485.76" textLength="10" lengthAdjust="spacingAndGlyphs">0.27</text>
<text class="t" x="387.1" y="504.78" text-anchor="end">Woodland</text>
<text class="vm" x="404.15" y="505.48" textLength="10" lengthAdjust="spacingAndGlyphs">0.13</text>
<text class="t" x="387.1" y="524.5" text-anchor="end">Cultivated Land</text>
<text class="vm" x="394.19" y="525.2" textLength="10" lengthAdjust="spacingAndGlyphs">0.03</text>
<text class="t" x="388.5" y="538.35" text-anchor="middle">0.0</text>
<line class="tk" x1="408.42" y1="532" x2="408.42" y2="530.7"/>
<text class="t" x="408.42" y="538.35" text-anchor="middle">0.2</text>
<line class="tk" x1="428.33" y1="532" x2="428.33" y2="530.7"/>
<text class="t" x="428.33" y="538.35" text-anchor="middle">0.4</text>
<line class="tk" x1="448.25" y1="532" x2="448.25" y2="530.7"/>
<text class="t" x="448.25" y="538.35" text-anchor="middle">0.6</text>
<line class="tk" x1="468.17" y1="532" x2="468.17" y2="530.7"/>
<text class="t" x="468.17" y="538.35" text-anchor="middle">0.8</text>
<line class="tk" x1="488.08" y1="532" x2="488.08" y2="530.7"/>
<text class="t" x="488.08" y="538.35" text-anchor="middle">1.0</text>
<text class="t" x="508" y="538.35" text-anchor="middle">1.2</text>
<text class="xl" x="451.05" y="544.8" text-anchor="middle">FRn</text>
<text class="yl" transform="translate(359.65 473.1) rotate(-90)" text-anchor="middle">Land Use Type</text>
<text x="502.9" y="423.1" text-anchor="middle" font-size="8.5" font-weight="bold" fill="#000" stroke="#000" stroke-width="0.12">l</text>
</g>
</svg>
</body></html>
